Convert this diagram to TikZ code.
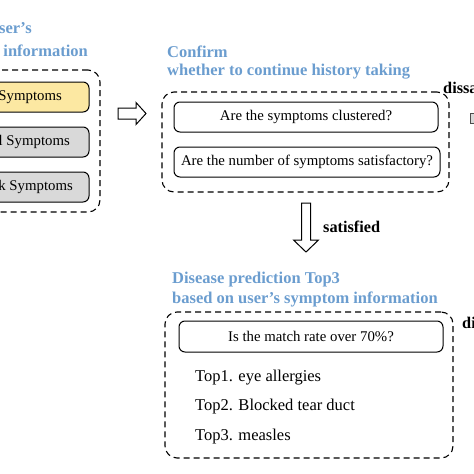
\documentclass[tikz,border=0pt]{standalone}
\usepackage{fontspec}
\setmainfont{Liberation Serif}
\definecolor{ttlc}{RGB}{107,157,207}
\definecolor{yel}{RGB}{252,232,162}
\definecolor{gry}{RGB}{217,217,217}
\begin{document}
\begin{tikzpicture}[x=1pt,y=-1pt,
 dbox/.style={draw, dash pattern=on 6pt off 4pt, line width=1.1pt, rounded corners=12pt, inner sep=0pt},
 qbox/.style={draw, line width=1pt, rounded corners=6pt, inner sep=0pt, font=\fontsize{14.8}{17}\selectfont},
 lbox/.style={draw, line width=1pt, rounded corners=6pt, inner sep=0pt, minimum width=99pt, minimum height=30pt},
 ttl/.style={text=ttlc, font=\bfseries\fontsize{16.5}{18}\selectfont, anchor=west, inner sep=0pt},
 bodytxt/.style={font=\fontsize{14.8}{17}\selectfont, inner sep=0pt},
 toptxt/.style={font=\fontsize{16.5}{18}\selectfont, inner sep=0pt, anchor=west},
 btxt/.style={font=\bfseries\fontsize{16.3}{18}\selectfont, inner sep=0pt, anchor=west},
 barrow/.style={draw, line width=1pt, fill=white, line join=miter}]
\useasboundingbox (0,0) rectangle (474,474);
\clip (0,0) rectangle (474,474);

% left column
\node[ttl, anchor=east] (lt1) at (32,28) {ser’s};
\node[ttl, anchor=east] (lt2) at (88,51) {information};
\node[dbox, minimum width=140pt, minimum height=142pt] (ldash) at (30,141) {};
\node[lbox, fill=yel] (s1) at (39.5,97) {};
\node[lbox, fill=gry] (s2) at (39.5,142) {};
\node[lbox, fill=gry] (s3) at (39.5,187) {};
\node[bodytxt, anchor=east] (s1t) at (62,97) {Symptoms};
\node[bodytxt, anchor=east] (s2t) at (70,142) {l Symptoms};
\node[bodytxt, anchor=east] (s3t) at (73,187) {k Symptoms};

% right arrow
\draw[barrow] (118,108) -- (136,108) -- (136,102.5) -- (146,113.5) -- (136,124.5) -- (136,119) -- (118,119) -- cycle;

% middle block
\node[ttl] (ct1) at (167,52) {Confirm};
\node[ttl] (ct2) at (167,72) {whether to continue history taking};
\node[dbox, minimum width=287pt, minimum height=100pt] (cdash) at (305.5,142) {};
\node[qbox, minimum width=264pt, minimum height=30pt] (q1) at (306,117) {Are the symptoms clustered?};
\node[qbox, minimum width=266pt, minimum height=30pt] (q2) at (307,162) {Are the number of symptoms satisfactory?};
\node[btxt] (d1) at (443,88) {dissa};
\draw[fill=gry, draw=gray!60!black, line width=0.8pt] (470.5,113) rectangle (480,123);

% down arrow
\draw[barrow] (301.5,203) -- (310.5,203) -- (310.5,240) -- (318.5,240) -- (306,252) -- (293.5,240) -- (301.5,240) -- cycle;
\node[btxt] (sat) at (323,227) {satisfied};

% bottom block
\node[ttl] (bt1) at (172,280) {Disease prediction Top3};
\node[ttl] (bt2) at (172,299) {based on user's symptom information};
\node[dbox, minimum width=288pt, minimum height=146pt] (bdash) at (309,385) {};
\node[qbox, minimum width=264pt, minimum height=31pt] (q3) at (311,336.5) {Is the match rate over 70\%?};
\node[toptxt] (t1) at (195,378) {Top1. eye allergies};
\node[toptxt] (t2) at (195,407) {Top2. Blocked tear duct};
\node[toptxt] (t3) at (195,437) {Top3. measles};
\node[btxt] (d2) at (462,323) {di};
\end{tikzpicture}
\end{document}
